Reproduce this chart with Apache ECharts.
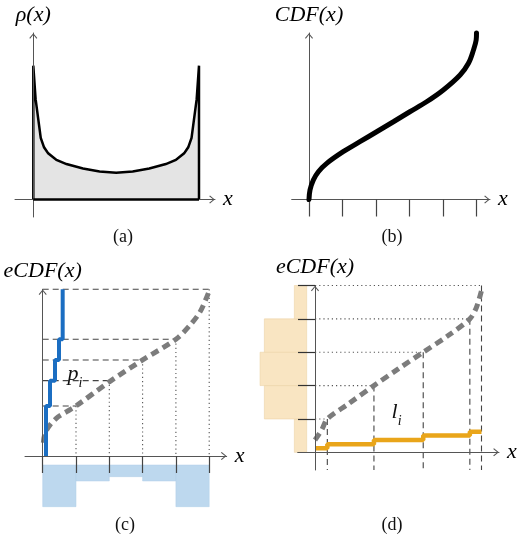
<!DOCTYPE html>
<html><head><meta charset="utf-8">
<script src="https://cdn.jsdelivr.net/npm/echarts@6/dist/echarts.min.js"></script>
<style>html,body{margin:0;padding:0;background:#fff}#c{width:520px;height:539px}</style>
</head><body><div id="c"></div>
<script>
// ---------- (a) density rho(x) ----------
const aX = [0, 0, 0.014, 0.045, 0.065, 0.09, 0.14, 0.2, 0.3, 0.4, 0.5, 0.6, 0.7, 0.8, 0.86, 0.91, 0.935, 0.955, 0.986, 1, 1];
const aY = [0, 1, 0.75, 0.46, 0.39, 0.345, 0.295, 0.265, 0.232, 0.21, 0.2, 0.21, 0.232, 0.265, 0.295, 0.345, 0.39, 0.46, 0.75, 1, 0];
// ---------- (b) CDF(x) ----------
const bX = [0, 0.03, 0.13, 0.28, 0.53, 1.02, 1.52, 2.02, 2.52, 3.01, 3.51, 4.01, 4.51, 4.76, 4.91, 4.99, 5.0];
const bY = [0, 0.057, 0.117, 0.167, 0.217, 0.287, 0.347, 0.407, 0.467, 0.527, 0.587, 0.658, 0.748, 0.818, 0.898, 0.958, 1.0];
const bTicks = [0, 1, 2, 3, 4, 5];
// ---------- (c) eCDF with equal x bins ----------
const cTicks = [0, 1, 2, 3, 4, 5];
const cLevels = [0, 0.3, 0.452, 0.576, 0.7, 1.0];
const cCurveX = [0.02, 0.07, 0.22, 0.47, 0.72, 1, 2, 3, 4, 4.43, 4.73, 5];
const cCurveY = [0.08, 0.136, 0.186, 0.236, 0.266, 0.3, 0.445, 0.576, 0.7, 0.786, 0.866, 0.99];
const cStepX = [0.1, 0.22, 0.37, 0.49, 0.6];
const cHistTop = -0.054;
const cHistBottom = [-0.304, -0.15, -0.124, -0.15, -0.304];
const cLabel = [0.97, 0.49];
// ---------- (d) eCDF with equal probability bins ----------
const dLevels = [0, 0.2, 0.4, 0.6, 0.8, 1.0];
const dHitX = [0.37, 1.77, 3.25, 4.65, 5.0];
const dCurveX = [0, 0.2, 0.37, 1.0, 1.77, 2.5, 3.25, 4.0, 4.65, 4.85, 5.0];
const dCurveY = [0.074, 0.134, 0.2, 0.29, 0.4, 0.5, 0.6, 0.7, 0.8, 0.87, 0.97];
const dStepY = [0.024, 0.048, 0.074, 0.1, 0.123];
const dHistRight = -0.25;
const dHistLeft = [-0.62, -1.52, -1.65, -1.52, -0.62];
const dLabel = [2.45, 0.24];

const SERIF = '"Liberation Serif","DejaVu Serif",serif';
const AX = '#555';
const ARROW = 'path://M5,0 L10,6 L9,7 L5,1.9 L1,7 L0,6 Z';
const nameStyle = {fontFamily: SERIF, fontStyle: 'italic', fontSize: 22, color: '#000'};

function axisLine() {
  return {show: true, onZero: true, symbol: ['none', ARROW], symbolSize: [8, 6], symbolOffset: [0, -3],
          lineStyle: {color: AX, width: 1}};
}
function mkX(gi, min, max, ticks) {
  return {type: 'value', gridIndex: gi, min: min, max: max, name: 'x', nameLocation: 'end', nameGap: 8,
    nameTextStyle: nameStyle, axisLine: axisLine(),
    axisTick: ticks ? {show: true, customValues: ticks, length: 17, lineStyle: {color: '#444', width: 1.2}} : {show: false},
    axisLabel: {show: false}, splitLine: {show: false}, z: 10};
}
function mkY(gi, min, max, name, ticks) {
  return {type: 'value', gridIndex: gi, min: min, max: max, name: name, nameLocation: 'end', nameGap: 7,
    nameTextStyle: nameStyle, axisLine: axisLine(),
    axisTick: ticks ? {show: true, customValues: ticks, length: 17, lineStyle: {color: '#333', width: 1.2}} : {show: false},
    axisLabel: {show: false}, splitLine: {show: false}, z: 10};
}
function zip(xs, ys) { return xs.map((x, i) => [x, ys[i]]); }

function segSeries(gi, data, style, z) {
  return {type: 'custom', xAxisIndex: gi, yAxisIndex: gi, data: data, clip: false, z: z || 2, silent: true,
    renderItem: function (params, api) {
      const p0 = api.coord([api.value(0), api.value(1)]);
      const p1 = api.coord([api.value(2), api.value(3)]);
      return {type: 'line', shape: {x1: p0[0], y1: p0[1], x2: p1[0], y2: p1[1]}, style: style};
    }};
}
function rectSeries(gi, data, style, z) {
  return {type: 'custom', xAxisIndex: gi, yAxisIndex: gi, data: data, clip: false, z: z || 1, silent: true,
    renderItem: function (params, api) {
      const p0 = api.coord([api.value(0), api.value(3)]);
      const p1 = api.coord([api.value(1), api.value(2)]);
      return {type: 'rect', shape: {x: p0[0], y: p0[1], width: p1[0] - p0[0], height: p1[1] - p0[1]}, style: style};
    }};
}
function labelSeries(gi, pos, main) {
  return {type: 'scatter', xAxisIndex: gi, yAxisIndex: gi, data: [pos], symbolSize: 2, itemStyle: {color: 'rgba(0,0,0,0)'}, silent: true, z: 12,
    label: {show: true, position: 'inside', formatter: '{p|' + main + '}{s|i}', opacity: 1,
      rich: {p: {fontFamily: SERIF, fontStyle: 'italic', fontSize: 22, color: '#111', lineHeight: 26, verticalAlign: 'middle'},
             s: {fontFamily: SERIF, fontStyle: 'italic', fontSize: 14, color: '#111', lineHeight: 32, verticalAlign: 'bottom'}}}};
}

// derived geometry from arrays
const cHist = cHistBottom.map((b, i) => [cTicks[i], cTicks[i + 1], b, cHistTop]);
const cHoriz = cLevels.slice(1).map((l, i) => [0, l, cTicks[i + 1], l]);
const cVert = cLevels.slice(1).map((l, i) => [cTicks[i + 1], l, cTicks[i + 1], 0]);
const cStep = [];
cStepX.forEach((x, i) => { cStep.push([x, cLevels[i]]); cStep.push([x, cLevels[i + 1]]); });
const dHist = dHistLeft.map((l, i) => [l, dHistRight, dLevels[i], dLevels[i + 1]]);
const dHoriz = dHitX.map((x, i) => [0, dLevels[i + 1], x, dLevels[i + 1]]);
const dVert = dHitX.map((x, i) => [x, dLevels[i + 1], x, -0.106]);
const dStep = [];
const dEdges = [0].concat(dHitX);
dStepY.forEach((y, i) => { dStep.push([dEdges[i], y]); dStep.push([dEdges[i + 1], y]); });

const chart = echarts.init(document.getElementById('c'), null, {renderer: 'canvas'});
chart.setOption({
  backgroundColor: '#fff',
  animation: false,
  grid: [
    {left: 15, top: 33, width: 200, height: 184},
    {left: 291.7, top: 33, width: 198.3, height: 166.5},
    {left: 25, top: 289.3, width: 201.7, height: 166.7},
    {left: 297.7, top: 285.5, width: 201.3, height: 184.5}
  ],
  xAxis: [
    mkX(0, -0.1104, 1.0966, null),
    mkX(1, -0.5164, 5.403, bTicks),
    mkX(2, -0.5315, 5.5255, cTicks),
    mkX(3, -0.5195, 5.5255, null)
  ],
  yAxis: [
    mkY(0, -0.1308, 1.2444, 'ρ(x)', null),
    mkY(1, 0, 1, 'CDF(x)', null),
    mkY(2, 0, 1, 'eCDF(x)', null),
    mkY(3, -0.1061, 1, 'eCDF(x)', dLevels.slice(1))
  ],
  graphic: [
    {type: 'text', x: 123, y: 237, style: {text: '(a)', font: '18px "Liberation Serif"', fill: '#111', align: 'center', verticalAlign: 'middle'}},
    {type: 'text', x: 392, y: 237, style: {text: '(b)', font: '18px "Liberation Serif"', fill: '#111', align: 'center', verticalAlign: 'middle'}},
    {type: 'text', x: 125, y: 525, style: {text: '(c)', font: '18px "Liberation Serif"', fill: '#111', align: 'center', verticalAlign: 'middle'}},
    {type: 'text', x: 392, y: 525, style: {text: '(d)', font: '18px "Liberation Serif"', fill: '#111', align: 'center', verticalAlign: 'middle'}}
  ],
  series: [
    // (a)
    {type: 'line', xAxisIndex: 0, yAxisIndex: 0, data: zip(aX, aY), symbol: 'none', clip: false, z: 3,
     lineStyle: {color: '#000', width: 2.5, join: 'miter'}, areaStyle: {color: '#e4e4e4', opacity: 1}},
    {type: 'line', xAxisIndex: 0, yAxisIndex: 0, data: [[aX[0], 0], [aX[aX.length - 1], 0]], symbol: 'none', clip: false, z: 11,
     lineStyle: {color: '#000', width: 2.5}},
    // (b)
    {type: 'line', xAxisIndex: 1, yAxisIndex: 1, data: zip(bX, bY), symbol: 'none', smooth: 0.35, clip: false, z: 11,
     lineStyle: {color: '#000', width: 5, cap: 'round'}},
    // (c)
    rectSeries(2, cHist, {fill: '#bdd8ee', stroke: '#b0cfe8', lineWidth: 0.5}, 1),
    segSeries(2, cHoriz, {stroke: '#444', lineWidth: 1.1, lineDash: [6, 4]}, 2),
    segSeries(2, cVert, {stroke: '#555', lineWidth: 1.1, lineDash: [1.2, 3]}, 2),
    {type: 'line', xAxisIndex: 2, yAxisIndex: 2, data: zip(cCurveX, cCurveY), symbol: 'none', smooth: 0.3, clip: false, z: 4,
     lineStyle: {color: '#7c7c7c', width: 5, type: [8, 5]}},
    {type: 'line', xAxisIndex: 2, yAxisIndex: 2, data: cStep, symbol: 'none', clip: false, z: 5,
     lineStyle: {color: '#1b6ec2', width: 4}},
    labelSeries(2, cLabel, 'p'),
    // (d)
    rectSeries(3, dHist, {fill: '#f9e5c2', stroke: '#ecd3a6', lineWidth: 0.6}, 1),
    segSeries(3, dHoriz, {stroke: '#555', lineWidth: 1.1, lineDash: [1.2, 3]}, 2),
    segSeries(3, dVert, {stroke: '#444', lineWidth: 1.1, lineDash: [6, 4]}, 2),
    {type: 'line', xAxisIndex: 3, yAxisIndex: 3, data: zip(dCurveX, dCurveY), symbol: 'none', smooth: 0.3, clip: false, z: 4,
     lineStyle: {color: '#7c7c7c', width: 5, type: [8, 5]}},
    {type: 'line', xAxisIndex: 3, yAxisIndex: 3, data: dStep, symbol: 'none', clip: false, z: 5,
     lineStyle: {color: '#e9a51a', width: 4.5}},
    labelSeries(3, dLabel, 'l')
  ]
});
</script></body></html>
